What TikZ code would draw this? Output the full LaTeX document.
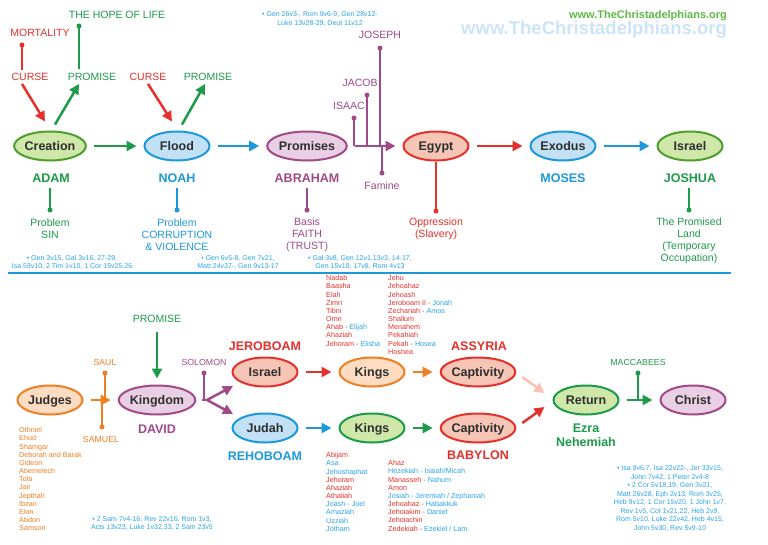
\documentclass[tikz,border=0pt]{standalone}
\usepackage{fontspec}
\setmainfont{Liberation Sans}
\usetikzlibrary{arrows.meta,shapes.geometric,calc}
\definecolor{cgreen}{HTML}{1E9A4B}
\definecolor{cred}{HTML}{E5312B}
\definecolor{cblue}{HTML}{1E98DD}
\definecolor{cpurple}{HTML}{A04A8A}
\definecolor{corange}{HTML}{EE7F24}
\definecolor{cpink}{HTML}{F7C2B2}
\definecolor{refblue}{HTML}{2AA4E8}
\definecolor{fgreen}{HTML}{CFE8A9}
\definecolor{bgreen}{HTML}{4E9E2E}
\definecolor{fblue}{HTML}{C2E1F7}
\definecolor{fpurple}{HTML}{E9CFE3}
\definecolor{fsalmon}{HTML}{F6C5B5}
\definecolor{fpeach}{HTML}{FDDCC2}
\definecolor{wmblue}{HTML}{CBE4F7}
\definecolor{wmgreen}{HTML}{5DB946}
\definecolor{txtdark}{HTML}{2E2E2E}
\newcommand\bluetx[1]{\textcolor{refblue}{#1}}
\tikzset{
 ell/.style={ellipse, draw, line width=2pt, minimum width=65pt, minimum height=29pt, inner sep=0pt, text height=10pt, text depth=2pt, font=\fontsize{12.5}{14}\selectfont\bfseries, text=txtdark},
 gE/.style={ell, draw=bgreen, fill=fgreen},
 bE/.style={ell, draw=cblue, fill=fblue},
 pE/.style={ell, draw=cpurple, fill=fpurple},
 rE/.style={ell, draw=cred, fill=fsalmon},
 oE/.style={ell, draw=corange, fill=fpeach},
 arr/.style={line width=2.5pt, -{Triangle[length=10pt,width=10pt]}, shorten <=7pt, shorten >=7pt},
 lbl/.style={inner sep=0pt, font=\fontsize{10.5}{12}\selectfont, align=center},
 big/.style={inner sep=0pt, font=\fontsize{12.5}{14}\selectfont\bfseries, align=center},
 sml/.style={inner sep=0pt, font=\fontsize{8.8}{10}\selectfont},
 lst/.style={inner sep=0pt, font=\fontsize{7.2}{8.15}\selectfont, align=left, anchor=north west},
 refs/.style={inner sep=0pt, font=\fontsize{7}{8.5}\selectfont, align=center, text=refblue},
 stem/.style={line width=1.2pt},
 dot/.style={circle, fill, inner sep=0pt, minimum size=5pt},
}
\begin{document}
\begin{tikzpicture}[x=1pt,y=-1pt]
\fill[white] (0,0) rectangle (768,544);
\useasboundingbox (0,0) rectangle (768,544);

% watermark
\node[inner sep=0pt, text=wmblue, font=\fontsize{18.5}{20}\selectfont\bfseries] (wmb) at (594,30) {www.TheChristadelphians.org};
\node[inner sep=0pt, text=wmgreen, font=\fontsize{11}{12}\selectfont\bfseries] (wmg) at (648,16) {www.TheChristadelphians.org};

% ---------- top row ----------
\node[gE] (creation) at (50,146) {Creation};
\node[bE] (flood) at (177,146) {Flood};
\node[pE, minimum width=70pt] (promises) at (307,146) {Promises};
\node[rE] (egypt) at (436,146) {Egypt};
\node[bE] (exodus) at (563,146) {Exodus};
\node[gE] (israel) at (690,146) {Israel};

\draw[arr, cgreen] (creation) -- (flood);
\draw[arr, cblue] (flood) -- (promises);
\draw[arr, cpurple] (promises) -- (egypt);
\draw[arr, cred] (egypt) -- (exodus);
\draw[arr, cblue] (exodus) -- (israel);

% curse / promise
\node[lbl, text=cgreen] (hope) at (117,15) {THE HOPE OF LIFE};
\node[lbl, text=cred] (mortality) at (40,33) {MORTALITY};
\node[lbl, text=cred] (curse1) at (30,77) {CURSE};
\node[lbl, text=cgreen] (promise1) at (92,77) {PROMISE};
\node[lbl, text=cred] (curse2) at (148,77) {CURSE};
\node[lbl, text=cgreen] (promise2) at (208,77) {PROMISE};
\node[dot, cgreen] (hopedot) at (79,26) {};
\node[dot, cred] (mortdot) at (22,45) {};
\draw[stem, cgreen, shorten >=4pt] (hopedot.center) -- (hopedot |- promise1.north);
\draw[stem, cred, shorten >=3pt] (mortdot.center) -- (mortdot |- curse1.north);
\draw[arr, cred, shorten <=0pt, shorten >=0pt] ($(curse1.south)+(-8,3)$) -- ($(creation.north)+(-5,-9)$);
\draw[arr, cgreen, shorten <=0pt, shorten >=0pt] ($(creation.north)+(5,-6)$) -- ($(promise1.south)+(-13,3)$);
\draw[arr, cred, shorten <=0pt, shorten >=0pt] ($(curse2.south)+(0,3)$) -- ($(flood.north)+(-5,-9)$);
\draw[arr, cgreen, shorten <=0pt, shorten >=0pt] ($(flood.north)+(5,-6)$) -- ($(promise2.south)+(-3,3)$);

% patriarchs
\node[refs] (refT) at (320,19) {• Gen 26v3-, Rom 9v6-9, Gen 28v12-\\Luke 13v28-29, Deut 11v12};
\node[lbl, text=cpurple] (joseph) at (380,35) {JOSEPH};
\node[lbl, text=cpurple] (jacob) at (360,83) {JACOB};
\node[lbl, text=cpurple] (isaac) at (349,106) {ISAAC};
\node[dot, cpurple] (josephdot) at (380,48) {};
\node[dot, cpurple] (jacobdot) at (367,95) {};
\node[dot, cpurple] (isaacdot) at (354,118) {};
\draw[stem, cpurple] (josephdot.center) -- (josephdot |- promises);
\draw[stem, cpurple] (jacobdot.center) -- (jacobdot |- promises);
\draw[stem, cpurple] (isaacdot.center) -- (isaacdot |- promises);
\node[dot, cpurple] (famdot) at (382,173) {};
\node[lbl, text=cpurple] (famine) at (382,186) {Famine};
\draw[stem, cpurple] (famdot |- promises) -- (famdot.center);

% names
\node[big, text=cgreen] (adam) at (51,178) {ADAM};
\node[big, text=cblue] (noah) at (177,178) {NOAH};
\node[big, text=cpurple] (abraham) at (307,178) {ABRAHAM};
\node[big, text=cblue] (moses) at (563,178) {MOSES};
\node[big, text=cgreen] (joshua) at (690,178) {JOSHUA};

\node[dot, cgreen] (adamdot) at (50,210) {};
\node[dot, cblue] (noahdot) at (177,210) {};
\node[dot, cpurple] (abrdot) at (307,210) {};
\node[dot, cred] (egyptdot) at (436,211) {};
\node[dot, cgreen] (joshdot) at (689,210) {};
\draw[stem, cgreen, shorten <=5pt] (adamdot |- adam.south) -- (adamdot.center);
\draw[stem, cblue, shorten <=5pt] (noahdot |- noah.south) -- (noahdot.center);
\draw[stem, cpurple, shorten <=5pt] (abrdot |- abraham.south) -- (abrdot.center);
\draw[stem, cred] (egypt.south) -- (egyptdot.center);
\draw[stem, cgreen, shorten <=5pt] (joshdot |- joshua.south) -- (joshdot.center);

\node[lbl, text=cgreen] (sin) at (50,229) {Problem\\SIN};
\node[lbl, text=cblue] (corr) at (177,235) {Problem\\CORRUPTION\\\& VIOLENCE};
\node[lbl, text=cpurple] (basis) at (307,235) {Basis\\FAITH\\(TRUST)};
\node[lbl, text=cred] (oppr) at (436,229) {Oppression\\(Slavery)};
\node[lbl, text=cgreen] (land) at (689,241) {The Promised\\Land\\(Temporary\\Occupation)};

\node[refs] (refA) at (72,262.5) {• Gen 3v15, Gal 3v16, 27-29,\\Isa 53v10, 2 Tim 1v10, 1 Cor 15v25,26};
\node[refs] (refB) at (238,262.5) {• Gen 6v5-8, Gen 7v21,\\Matt 24v37-, Gen 9v13-17};
\node[refs] (refC) at (360,262.5) {• Gal 3v8, Gen 12v1,13v3, 14-17,\\Gen 15v18, 17v8, Rom 4v13};

\draw[cblue, line width=2.5pt] (8,273) -- (731,273);

% ---------- bottom ----------
\node[oE] (judges) at (50,400) {Judges};
\node[pE] (kingdom) at (157,400) {Kingdom};
\node[rE] (israelB) at (265,372) {Israel};
\node[bE] (judah) at (265,428) {Judah};
\node[oE] (kingsA) at (372,372) {Kings};
\node[ell, draw=cgreen, fill=fgreen] (kingsB) at (372,428) {Kings};
\node[rE] (capA) at (478,372) {Captivity};
\node[rE] (capB) at (478,428) {Captivity};
\node[ell, draw=cgreen, fill=fgreen] (return) at (586,400) {Return};
\node[pE] (christ) at (693,400) {Christ};

\draw[arr, corange] (judges) -- (kingdom);
\draw[arr, cred] (israelB) -- (kingsA);
\draw[arr, corange] (kingsA) -- (capA);
\draw[arr, cblue] (judah) -- (kingsB);
\draw[arr, cgreen] (kingsB) -- (capB);
\draw[arr, cpink, shorten <=0pt, shorten >=0pt] ($(capA.east)+(6,5)$) -- ($(return.west)+(-8,-7)$);
\draw[arr, cred, shorten <=0pt, shorten >=0pt] ($(capB.east)+(6,-5)$) -- ($(return.west)+(-8,7)$);
\draw[arr, cgreen] (return) -- (christ);

% promise to kingdom
\node[lbl, text=cgreen] (promise3) at (157,319) {PROMISE};
\draw[arr, cgreen, shorten <=9pt, shorten >=6pt] (promise3.south) -- (kingdom.north);

% saul / samuel
\node[sml, text=corange] (saul) at (105,362) {SAUL};
\node[dot, corange] (sauldot) at (105,373) {};
\draw[stem, corange] (sauldot.center) -- (sauldot |- judges);
\node[sml, text=corange] (samuel) at (101,439) {SAMUEL};
\node[dot, corange] (samueldot) at (102,427) {};
\draw[stem, corange] (samueldot |- judges) -- (samueldot.center);

% solomon fork
\node[sml, text=cpurple] (solomon) at (204,362) {SOLOMON};
\node[dot, cpurple] (soldot) at (204,373) {};
\coordinate (fork) at (207,400);
\coordinate (forkup) at (233,386);
\coordinate (forkdn) at (233,414);
\draw[stem, cpurple] (soldot.center) -- (soldot |- kingdom);
\draw[cpurple, line width=2.5pt, shorten <=6pt] (kingdom.east) -- (fork);
\draw[cpurple, line width=2.5pt, -{Triangle[length=10pt,width=10pt]}] (fork) -- (forkup);
\draw[cpurple, line width=2.5pt, -{Triangle[length=10pt,width=10pt]}] (fork) -- (forkdn);

\node[big, text=cpurple] (david) at (157,429) {DAVID};
\node[big, text=cred] (jeroboam) at (265,346) {JEROBOAM};
\node[big, text=cblue] (rehoboam) at (265,456) {REHOBOAM};
\node[big, text=cred] (assyria) at (479,346) {ASSYRIA};
\node[big, text=cred] (babylon) at (478,455) {BABYLON};
\node[big, text=cgreen] (ezra) at (586,435) {Ezra\\Nehemiah};

\node[sml, text=cgreen] (macc) at (638,362) {MACCABEES};
\node[dot, cgreen] (maccdot) at (638,373) {};
\draw[stem, cgreen] (maccdot.center) -- (maccdot |- return);

% lists
\node[lst, text=corange] (judgelist) at (19,427.4) {Othniel\\Ehud\\Shamgar\\Deborah and Barak\\Gideon\\Abemelech\\Tola\\Jair\\Jepthah\\Ibzan\\Elon\\Abdon\\Samson};

\node[lst, text=cred] (kAL) at (326,275.4) {Nadab\\Baasha\\Elah\\Zimri\\Tibni\\Omri\\Ahab - \bluetx{Elijah}\\Ahaziah\\Jehoram - \bluetx{Elisha}};
\node[lst, text=cred] (kAR) at (388,275.4) {Jehu\\Jehoahaz\\Jehoash\\Jeroboam II - \bluetx{Jonah}\\Zechariah - \bluetx{Amos}\\Shallum\\Menahem\\Pekahiah\\Pekah - \bluetx{Hosea}\\Hoshea};

\node[lst, text=cred] (kBL) at (326,452.4) {Abijam\\\bluetx{Asa}\\\bluetx{Jehoshaphat}\\Jehoram\\Ahaziah\\Athaliah\\\bluetx{Joash - Joel}\\\bluetx{Amaziah}\\\bluetx{Uzziah}\\\bluetx{Jotham}};
\node[lst, text=cred] (kBR) at (388,460.4) {Ahaz\\\bluetx{Hezekiah - Isaiah/Micah}\\Manasseh - \bluetx{Nahum}\\Amon\\\bluetx{Josiah - Jeremiah / Zephaniah}\\Jehoahaz - \bluetx{Habakkuk}\\Jehoiakim - \bluetx{Daniel}\\Jehoiachin\\Zedekiah - \bluetx{Ezekiel / Lam.}};

\node[refs] (refD) at (152,523.5) {• 2 Sam 7v4-16, Rev 22v16, Rom 1v3,\\Acts 13v23, Luke 1v32,33, 2 Sam 23v5};
\node[refs] (refE) at (670,498.5) {• Isa 9v6,7, Isa 22v22-, Jer 33v15,\\John 7v42, 1 Peter 2v4-8\\• 2 Cor 5v18,19, Gen 3v21,\\Matt 26v28, Eph 2v13, Rom 3v25,\\Heb 9v12, 1 Cor 15v20, 1 John 1v7,\\Rev 1v5, Col 1v21,22, Heb 2v9,\\Rom 5v10, Luke 22v42, Heb 4v15,\\John 5v30, Rev 5v9-10};
\end{tikzpicture}
\end{document}
